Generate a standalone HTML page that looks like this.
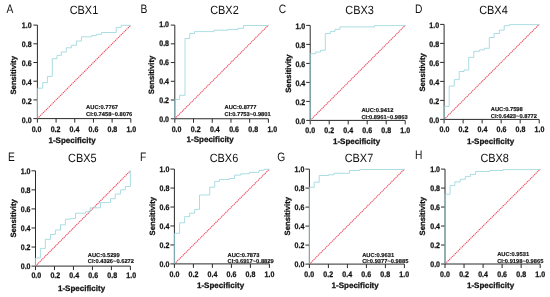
<!DOCTYPE html>
<html><head><meta charset="utf-8"><title>ROC curves CBX1-8</title>
<style>
html,body{margin:0;padding:0;background:#fff;}
svg{display:block;will-change:transform;}
text{font-family:"Liberation Sans",sans-serif;fill:#111;text-rendering:geometricPrecision;}
.lt{font-size:12.2px;}
.tt{font-size:12px;}
.tk{font-size:8px;font-weight:bold;stroke:#111;stroke-width:0.25px;}
.lb{font-size:8px;font-weight:bold;stroke:#111;stroke-width:0.25px;}
.sn{font-size:7.7px;}
.au{font-size:5.75px;font-weight:bold;stroke:#111;stroke-width:0.15px;}
.cv{fill:none;stroke:#96d4dc;stroke-width:1.0;stroke-opacity:0.8;}
.dg{stroke:#ec4a5e;stroke-width:1.1;stroke-dasharray:1.3 0.7;}
.ax{fill:none;stroke:#2a2a2a;stroke-width:1.0;}
</style></head><body>
<svg width="550" height="297" viewBox="0 0 550 297">
<rect width="550" height="297" fill="#fff"/>
<text transform="translate(6.6,12.8) scale(0.84,1)" class="lt">A</text>
<text transform="translate(69.7,14.2) scale(0.91,1)" class="tt">CBX1</text>
<line x1="37.4" y1="118.6" x2="130.8" y2="25.1" class="dg"/>
<path d="M37.4,25.1V118.6H130.8M33.4,118.6H37.4M37.4,118.6V122.6M33.4,99.9H37.4M56.08,118.6V122.6M33.4,81.2H37.4M74.76,118.6V122.6M33.4,62.5H37.4M93.44,118.6V122.6M33.4,43.8H37.4M112.12,118.6V122.6M33.4,25.1H37.4M130.8,118.6V122.6" class="ax"/>
<polyline points="37.4,118.6 37.4,88.2 42.7,88.2 42.7,82.6 47.4,82.6 47.4,76.4 52.3,76.4 52.3,58.7 57,58.7 57,55.4 61.3,55.4 61.3,52 66.3,52 66.3,47.8 71.4,47.8 71.4,45.3 76.4,45.3 76.4,41 81.5,41 81.5,36.8 91.6,36.8 91.6,35.5 96.6,35.5 96.6,34.3 101.5,34.3 101.5,32.5 116.2,32.5 116.2,27.4 121.2,27.4 121.2,25.3 130.8,25.3" class="cv"/>
<text transform="translate(31.6,123.05) scale(0.88,1)" class="tk" text-anchor="end">0.0</text>
<text transform="translate(36.6,132) scale(0.88,1)" class="tk" text-anchor="middle">0.0</text>
<text transform="translate(31.6,104.03) scale(0.88,1)" class="tk" text-anchor="end">0.2</text>
<text transform="translate(55.54,132) scale(0.88,1)" class="tk" text-anchor="middle">0.2</text>
<text transform="translate(31.6,85.01) scale(0.88,1)" class="tk" text-anchor="end">0.4</text>
<text transform="translate(74.48,132) scale(0.88,1)" class="tk" text-anchor="middle">0.4</text>
<text transform="translate(31.6,65.99) scale(0.88,1)" class="tk" text-anchor="end">0.6</text>
<text transform="translate(93.42,132) scale(0.88,1)" class="tk" text-anchor="middle">0.6</text>
<text transform="translate(31.6,46.97) scale(0.88,1)" class="tk" text-anchor="end">0.8</text>
<text transform="translate(112.36,132) scale(0.88,1)" class="tk" text-anchor="middle">0.8</text>
<text transform="translate(31.6,27.95) scale(0.88,1)" class="tk" text-anchor="end">1.0</text>
<text transform="translate(131.3,132) scale(0.88,1)" class="tk" text-anchor="middle">1.0</text>
<text transform="translate(16.2,75.3) rotate(-90)" class="lb sn" text-anchor="middle">Sensitivity</text>
<text x="48.5" y="143.1" class="lb">1-Specificity</text>
<text x="86.1" y="108.6" class="au">AUC:0.7767</text>
<text x="86.1" y="115.5" class="au">CI:0.7458~0.8076</text>
<text transform="translate(140.5,13.1) scale(0.84,1)" class="lt">B</text>
<text transform="translate(210.2,14) scale(0.91,1)" class="tt">CBX2</text>
<line x1="174.8" y1="118.75" x2="268.4" y2="25.1" class="dg"/>
<path d="M174.8,25.1V118.75H268.4M170.8,118.75H174.8M174.8,118.75V122.75M170.8,100.02H174.8M193.52,118.75V122.75M170.8,81.29H174.8M212.24,118.75V122.75M170.8,62.56H174.8M230.96,118.75V122.75M170.8,43.83H174.8M249.68,118.75V122.75M170.8,25.1H174.8M268.4,118.75V122.75" class="ax"/>
<polyline points="174.8,118.75 174.8,99.5 179.6,99.5 179.6,95.3 185,95.3 185,38.5 189.7,38.5 189.7,33.5 194.5,33.5 194.5,31.6 214,31.6 214,30.2 228,30.2 228,29.4 238,29.4 238,28.3 243.5,28.3 243.5,25.5 268.4,25.5" class="cv"/>
<text transform="translate(169,121.6) scale(0.88,1)" class="tk" text-anchor="end">0.0</text>
<text transform="translate(176.6,132.15) scale(0.88,1)" class="tk" text-anchor="middle">0.0</text>
<text transform="translate(169,102.67) scale(0.88,1)" class="tk" text-anchor="end">0.2</text>
<text transform="translate(195.74,132.15) scale(0.88,1)" class="tk" text-anchor="middle">0.2</text>
<text transform="translate(169,83.74) scale(0.88,1)" class="tk" text-anchor="end">0.4</text>
<text transform="translate(214.88,132.15) scale(0.88,1)" class="tk" text-anchor="middle">0.4</text>
<text transform="translate(169,64.81) scale(0.88,1)" class="tk" text-anchor="end">0.6</text>
<text transform="translate(234.02,132.15) scale(0.88,1)" class="tk" text-anchor="middle">0.6</text>
<text transform="translate(169,45.88) scale(0.88,1)" class="tk" text-anchor="end">0.8</text>
<text transform="translate(253.16,132.15) scale(0.88,1)" class="tk" text-anchor="middle">0.8</text>
<text transform="translate(169,26.95) scale(0.88,1)" class="tk" text-anchor="end">1.0</text>
<text transform="translate(272.3,132.15) scale(0.88,1)" class="tk" text-anchor="middle">1.0</text>
<text transform="translate(154,75) rotate(-90)" class="lb sn" text-anchor="middle">Sensitivity</text>
<text x="186.6" y="142.4" class="lb">1-Specificity</text>
<text x="224.5" y="108.6" class="au">AUC:0.8777</text>
<text x="224.5" y="115.5" class="au">CI:0.7753~0.9801</text>
<text transform="translate(278.7,13.1) scale(0.84,1)" class="lt">C</text>
<text transform="translate(345.3,14) scale(0.91,1)" class="tt">CBX3</text>
<line x1="310.2" y1="120.4" x2="405.2" y2="25.4" class="dg"/>
<path d="M310.2,25.4V120.4H405.2M306.2,120.4H310.2M310.2,120.4V124.4M306.2,101.4H310.2M329.2,120.4V124.4M306.2,82.4H310.2M348.2,120.4V124.4M306.2,63.4H310.2M367.2,120.4V124.4M306.2,44.4H310.2M386.2,120.4V124.4M306.2,25.4H310.2M405.2,120.4V124.4" class="ax"/>
<polyline points="310.2,120.4 310.2,53.7 315.6,53.7 315.6,52 320.6,52 320.6,50.3 325.3,50.3 325.3,33.5 330.4,33.5 330.4,31.4 335,31.4 335,29.3 340,29.3 340,26.9 374.5,26.9 374.5,25.6 405.2,25.6" class="cv"/>
<text transform="translate(305.2,123.55) scale(0.88,1)" class="tk" text-anchor="end">0.0</text>
<text transform="translate(310.2,133.1) scale(0.88,1)" class="tk" text-anchor="middle">0.0</text>
<text transform="translate(305.2,104.55) scale(0.88,1)" class="tk" text-anchor="end">0.2</text>
<text transform="translate(329.2,133.1) scale(0.88,1)" class="tk" text-anchor="middle">0.2</text>
<text transform="translate(305.2,85.55) scale(0.88,1)" class="tk" text-anchor="end">0.4</text>
<text transform="translate(348.2,133.1) scale(0.88,1)" class="tk" text-anchor="middle">0.4</text>
<text transform="translate(305.2,66.55) scale(0.88,1)" class="tk" text-anchor="end">0.6</text>
<text transform="translate(367.2,133.1) scale(0.88,1)" class="tk" text-anchor="middle">0.6</text>
<text transform="translate(305.2,47.55) scale(0.88,1)" class="tk" text-anchor="end">0.8</text>
<text transform="translate(386.2,133.1) scale(0.88,1)" class="tk" text-anchor="middle">0.8</text>
<text transform="translate(305.2,28.55) scale(0.88,1)" class="tk" text-anchor="end">1.0</text>
<text transform="translate(405.2,133.1) scale(0.88,1)" class="tk" text-anchor="middle">1.0</text>
<text transform="translate(291.4,73.6) rotate(-90)" class="lb sn" text-anchor="middle">Sensitivity</text>
<text x="333" y="144.4" class="lb">1-Specificity</text>
<text x="361.4" y="112.1" class="au">AUC:0.9412</text>
<text x="361.4" y="118.8" class="au">CI:0.8961~0.9863</text>
<text transform="translate(415,13.1) scale(0.84,1)" class="lt">D</text>
<text transform="translate(479.2,14.2) scale(0.91,1)" class="tt">CBX4</text>
<line x1="444.1" y1="119.4" x2="539.2" y2="24.4" class="dg"/>
<path d="M444.1,24.4V119.4H539.2M440.1,119.4H444.1M444.1,119.4V123.4M440.1,100.4H444.1M463.12,119.4V123.4M440.1,81.4H444.1M482.14,119.4V123.4M440.1,62.4H444.1M501.16,119.4V123.4M440.1,43.4H444.1M520.18,119.4V123.4M440.1,24.4H444.1M539.2,119.4V123.4" class="ax"/>
<polyline points="444.1,119.4 444.1,106.3 449.2,106.3 449.2,86.1 454.3,86.1 454.3,79.6 459.2,79.6 459.2,71.5 464,71.5 464,70 468.7,70 468.7,57.4 473.8,57.4 473.8,51.3 479.4,51.3 479.4,49.9 484.4,49.9 484.4,48.3 489.3,48.3 489.3,37.5 494.1,37.5 494.1,33.5 499.4,33.5 499.4,30.1 504.2,30.1 504.2,25.7 509.5,25.7 509.5,24.6 539.2,24.6" class="cv"/>
<text transform="translate(439.1,122.95) scale(0.88,1)" class="tk" text-anchor="end">0.0</text>
<text transform="translate(444.4,132.3) scale(0.88,1)" class="tk" text-anchor="middle">0.0</text>
<text transform="translate(439.1,103.95) scale(0.88,1)" class="tk" text-anchor="end">0.2</text>
<text transform="translate(463.42,132.3) scale(0.88,1)" class="tk" text-anchor="middle">0.2</text>
<text transform="translate(439.1,84.95) scale(0.88,1)" class="tk" text-anchor="end">0.4</text>
<text transform="translate(482.44,132.3) scale(0.88,1)" class="tk" text-anchor="middle">0.4</text>
<text transform="translate(439.1,65.95) scale(0.88,1)" class="tk" text-anchor="end">0.6</text>
<text transform="translate(501.46,132.3) scale(0.88,1)" class="tk" text-anchor="middle">0.6</text>
<text transform="translate(439.1,46.95) scale(0.88,1)" class="tk" text-anchor="end">0.8</text>
<text transform="translate(520.48,132.3) scale(0.88,1)" class="tk" text-anchor="middle">0.8</text>
<text transform="translate(439.1,27.95) scale(0.88,1)" class="tk" text-anchor="end">1.0</text>
<text transform="translate(539.5,132.3) scale(0.88,1)" class="tk" text-anchor="middle">1.0</text>
<text transform="translate(425.2,72.4) rotate(-90)" class="lb sn" text-anchor="middle">Sensitivity</text>
<text x="467" y="144" class="lb">1-Specificity</text>
<text x="490.8" y="111" class="au">AUC:0.7598</text>
<text x="490.8" y="118" class="au">CI:0.6423~0.8772</text>
<text transform="translate(7.9,161.2) scale(0.84,1)" class="lt">E</text>
<text transform="translate(68.1,162.4) scale(0.91,1)" class="tt">CBX5</text>
<line x1="35.5" y1="266.1" x2="130.4" y2="170.8" class="dg"/>
<path d="M35.5,170.8V266.1H130.4M31.5,266.1H35.5M35.5,266.1V270.1M31.5,247.04H35.5M54.48,266.1V270.1M31.5,227.98H35.5M73.46,266.1V270.1M31.5,208.92H35.5M92.44,266.1V270.1M31.5,189.86H35.5M111.42,266.1V270.1M31.5,170.8H35.5M130.4,266.1V270.1" class="ax"/>
<polyline points="35.5,266.1 35.5,258 40.4,258 40.4,248.4 45.3,248.4 45.3,239.3 50.5,239.3 50.5,234.4 55.4,234.4 55.4,230 60.5,230 60.5,224.8 65.4,224.8 65.4,219.2 70.7,219.2 70.7,218.4 75.5,218.4 75.5,213.2 85.5,213.2 85.5,211.8 90.2,211.8 90.2,207.8 100.5,207.8 100.5,202.6 110.5,202.6 110.5,198.7 115.2,198.7 115.2,194 120.6,194 120.6,189.9 125.3,189.9 125.3,186.5 130.4,186.5 130.4,170.8" class="cv"/>
<text transform="translate(30.5,269.25) scale(0.88,1)" class="tk" text-anchor="end">0.0</text>
<text transform="translate(36.3,278.4) scale(0.88,1)" class="tk" text-anchor="middle">0.0</text>
<text transform="translate(30.5,250.13) scale(0.88,1)" class="tk" text-anchor="end">0.2</text>
<text transform="translate(55.28,278.4) scale(0.88,1)" class="tk" text-anchor="middle">0.2</text>
<text transform="translate(30.5,231.01) scale(0.88,1)" class="tk" text-anchor="end">0.4</text>
<text transform="translate(74.26,278.4) scale(0.88,1)" class="tk" text-anchor="middle">0.4</text>
<text transform="translate(30.5,211.89) scale(0.88,1)" class="tk" text-anchor="end">0.6</text>
<text transform="translate(93.24,278.4) scale(0.88,1)" class="tk" text-anchor="middle">0.6</text>
<text transform="translate(30.5,192.77) scale(0.88,1)" class="tk" text-anchor="end">0.8</text>
<text transform="translate(112.22,278.4) scale(0.88,1)" class="tk" text-anchor="middle">0.8</text>
<text transform="translate(30.5,173.65) scale(0.88,1)" class="tk" text-anchor="end">1.0</text>
<text transform="translate(131.2,278.4) scale(0.88,1)" class="tk" text-anchor="middle">1.0</text>
<text transform="translate(16.4,218.4) rotate(-90)" class="lb sn" text-anchor="middle">Sensitivity</text>
<text x="58" y="290.6" class="lb">1-Specificity</text>
<text x="87.8" y="256.5" class="au">AUC:0.5299</text>
<text x="87.8" y="263.3" class="au">CI:0.4326~0.6272</text>
<text transform="translate(140.1,161) scale(0.84,1)" class="lt">F</text>
<text transform="translate(209.7,162.4) scale(0.91,1)" class="tt">CBX6</text>
<line x1="174.4" y1="263.9" x2="269.4" y2="169.1" class="dg"/>
<path d="M174.4,169.1V263.9H269.4M170.4,263.9H174.4M174.4,263.9V267.9M170.4,244.94H174.4M193.4,263.9V267.9M170.4,225.98H174.4M212.4,263.9V267.9M170.4,207.02H174.4M231.4,263.9V267.9M170.4,188.06H174.4M250.4,263.9V267.9M170.4,169.1H174.4M269.4,263.9V267.9" class="ax"/>
<polyline points="174.4,263.9 174.4,233.3 179.6,233.3 179.6,222.8 184.6,222.8 184.6,216.6 189.7,216.6 189.7,213.2 194.7,213.2 194.7,209.4 199.5,209.4 199.5,195 209.7,195 209.7,187.2 214.7,187.2 214.7,181.4 219.5,181.4 219.5,179.5 229.2,179.5 229.2,178.5 234.6,178.5 234.6,175.1 240.7,175.1 240.7,173.8 249.4,173.8 249.4,172.4 258.9,172.4 258.9,170.4 264,170.4 264,169.3 269.4,169.3" class="cv"/>
<text transform="translate(169.4,266.75) scale(0.88,1)" class="tk" text-anchor="end">0.0</text>
<text transform="translate(174.4,277.3) scale(0.88,1)" class="tk" text-anchor="middle">0.0</text>
<text transform="translate(169.4,247.79) scale(0.88,1)" class="tk" text-anchor="end">0.2</text>
<text transform="translate(193.4,277.3) scale(0.88,1)" class="tk" text-anchor="middle">0.2</text>
<text transform="translate(169.4,228.83) scale(0.88,1)" class="tk" text-anchor="end">0.4</text>
<text transform="translate(212.4,277.3) scale(0.88,1)" class="tk" text-anchor="middle">0.4</text>
<text transform="translate(169.4,209.87) scale(0.88,1)" class="tk" text-anchor="end">0.6</text>
<text transform="translate(231.4,277.3) scale(0.88,1)" class="tk" text-anchor="middle">0.6</text>
<text transform="translate(169.4,190.91) scale(0.88,1)" class="tk" text-anchor="end">0.8</text>
<text transform="translate(250.4,277.3) scale(0.88,1)" class="tk" text-anchor="middle">0.8</text>
<text transform="translate(169.4,171.95) scale(0.88,1)" class="tk" text-anchor="end">1.0</text>
<text transform="translate(269.4,277.3) scale(0.88,1)" class="tk" text-anchor="middle">1.0</text>
<text transform="translate(155.2,216.2) rotate(-90)" class="lb sn" text-anchor="middle">Sensitivity</text>
<text x="197" y="288" class="lb">1-Specificity</text>
<text x="227.5" y="256.5" class="au">AUC:0.7873</text>
<text x="227.5" y="263.3" class="au">CI:0.6917~0.8829</text>
<text transform="translate(277.3,161.4) scale(0.84,1)" class="lt">G</text>
<text transform="translate(344.7,162.4) scale(0.91,1)" class="tt">CBX7</text>
<line x1="309.4" y1="264.1" x2="404.4" y2="169.1" class="dg"/>
<path d="M309.4,169.1V264.1H404.4M305.4,264.1H309.4M309.4,264.1V268.1M305.4,245.1H309.4M328.4,264.1V268.1M305.4,226.1H309.4M347.4,264.1V268.1M305.4,207.1H309.4M366.4,264.1V268.1M305.4,188.1H309.4M385.4,264.1V268.1M305.4,169.1H309.4M404.4,264.1V268.1" class="ax"/>
<polyline points="309.4,264.1 309.4,187.3 314.2,187.3 314.2,182.2 319.2,182.2 319.2,175.5 328.6,175.5 328.6,174.8 334,174.8 334,173.3 349.5,173.3 349.5,170.5 359.7,170.5 359.7,169.5 404.4,169.5" class="cv"/>
<text transform="translate(304.4,266.95) scale(0.88,1)" class="tk" text-anchor="end">0.0</text>
<text transform="translate(309.2,276.8) scale(0.88,1)" class="tk" text-anchor="middle">0.0</text>
<text transform="translate(304.4,247.95) scale(0.88,1)" class="tk" text-anchor="end">0.2</text>
<text transform="translate(328.2,276.8) scale(0.88,1)" class="tk" text-anchor="middle">0.2</text>
<text transform="translate(304.4,228.95) scale(0.88,1)" class="tk" text-anchor="end">0.4</text>
<text transform="translate(347.2,276.8) scale(0.88,1)" class="tk" text-anchor="middle">0.4</text>
<text transform="translate(304.4,209.95) scale(0.88,1)" class="tk" text-anchor="end">0.6</text>
<text transform="translate(366.2,276.8) scale(0.88,1)" class="tk" text-anchor="middle">0.6</text>
<text transform="translate(304.4,190.95) scale(0.88,1)" class="tk" text-anchor="end">0.8</text>
<text transform="translate(385.2,276.8) scale(0.88,1)" class="tk" text-anchor="middle">0.8</text>
<text transform="translate(304.4,171.95) scale(0.88,1)" class="tk" text-anchor="end">1.0</text>
<text transform="translate(404.2,276.8) scale(0.88,1)" class="tk" text-anchor="middle">1.0</text>
<text transform="translate(290.2,216.2) rotate(-90)" class="lb sn" text-anchor="middle">Sensitivity</text>
<text x="331.6" y="288" class="lb">1-Specificity</text>
<text x="362.2" y="256.5" class="au">AUC:0.9631</text>
<text x="362.2" y="263.3" class="au">CI:0.9377~0.9885</text>
<text transform="translate(415.1,158.8) scale(0.84,1)" class="lt">H</text>
<text transform="translate(480.4,162.4) scale(0.91,1)" class="tt">CBX8</text>
<line x1="445" y1="264" x2="540.2" y2="169.1" class="dg"/>
<path d="M445,169.1V264H540.2M441,264H445M445,264V268M441,245.02H445M464.04,264V268M441,226.04H445M483.08,264V268M441,207.06H445M502.12,264V268M441,188.08H445M521.16,264V268M441,169.1H445M540.2,264V268" class="ax"/>
<polyline points="445,264 445,194.3 450.1,194.3 450.1,185.6 454.8,185.6 454.8,181.9 460.2,181.9 460.2,179.3 465.3,179.3 465.3,176.6 470.3,176.6 470.3,174.4 475.6,174.4 475.6,171.5 489.6,171.5 489.6,170.5 503,170.5 503,169.6 540.2,169.6" class="cv"/>
<text transform="translate(440,266.85) scale(0.88,1)" class="tk" text-anchor="end">0.0</text>
<text transform="translate(445,277.4) scale(0.88,1)" class="tk" text-anchor="middle">0.0</text>
<text transform="translate(440,247.87) scale(0.88,1)" class="tk" text-anchor="end">0.2</text>
<text transform="translate(464.04,277.4) scale(0.88,1)" class="tk" text-anchor="middle">0.2</text>
<text transform="translate(440,228.89) scale(0.88,1)" class="tk" text-anchor="end">0.4</text>
<text transform="translate(483.08,277.4) scale(0.88,1)" class="tk" text-anchor="middle">0.4</text>
<text transform="translate(440,209.91) scale(0.88,1)" class="tk" text-anchor="end">0.6</text>
<text transform="translate(502.12,277.4) scale(0.88,1)" class="tk" text-anchor="middle">0.6</text>
<text transform="translate(440,190.93) scale(0.88,1)" class="tk" text-anchor="end">0.8</text>
<text transform="translate(521.16,277.4) scale(0.88,1)" class="tk" text-anchor="middle">0.8</text>
<text transform="translate(440,171.95) scale(0.88,1)" class="tk" text-anchor="end">1.0</text>
<text transform="translate(540.2,277.4) scale(0.88,1)" class="tk" text-anchor="middle">1.0</text>
<text transform="translate(425.2,216.2) rotate(-90)" class="lb sn" text-anchor="middle">Sensitivity</text>
<text x="467" y="288" class="lb">1-Specificity</text>
<text x="497.2" y="256" class="au">AUC:0.9531</text>
<text x="497.2" y="263" class="au">CI:0.9198~0.9865</text>
</svg>
</body></html>
